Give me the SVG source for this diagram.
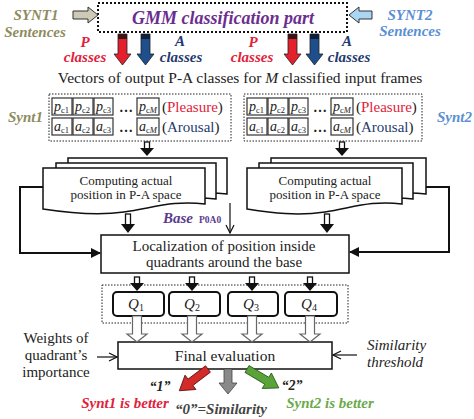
<svg xmlns="http://www.w3.org/2000/svg" width="474" height="419" viewBox="0 0 474 419" font-family="'Liberation Serif', 'Times New Roman', serif">
<style>
text{font-family:'Liberation Serif','Times New Roman',serif;fill:#222}
.bi{font-weight:bold;font-style:italic}
.it{font-style:italic}
.c{text-anchor:middle}
.dot{fill:none;stroke:#222;stroke-width:1;stroke-dasharray:1.5,1.5}
.cell{fill:#fff;stroke:#333;stroke-width:1.2}
.doc{fill:#fff;stroke:#111;stroke-width:1.5}
.box{fill:#fff;stroke:#111;stroke-width:1.5}
.qb{fill:#fff;stroke:#111;stroke-width:2}
.ln{fill:none;stroke:#111;stroke-width:2}
.thin{fill:none;stroke:#111;stroke-width:1.2}
.hs{fill:#fff;stroke:#111;stroke-width:1.3}
.hd{fill:#111;stroke:none}
.ho{fill:#fff;stroke:#666;stroke-width:1.2}
</style>
<defs>
<marker id="fa" markerWidth="10" markerHeight="10" refX="9" refY="5" orient="auto" markerUnits="userSpaceOnUse"><path d="M0,0 L10,5 L0,10 Z" fill="#111"/></marker>
<marker id="oa" markerWidth="10" markerHeight="10" refX="9" refY="5" orient="auto" markerUnits="userSpaceOnUse"><path d="M1,1 L9,5 L1,9" fill="none" stroke="#111" stroke-width="1.2"/></marker>
<g id="dn"><rect x="-2.5" y="0" width="5" height="11" class="hs"/><path d="M-7,10 L7,10 L0,19 Z" class="hd"/></g>
<g id="dnS"><rect x="-2.5" y="0" width="5" height="7" class="hs"/><path d="M-7,6 L7,6 L0,14 Z" class="hd"/></g>
<path id="hol" d="M-4.5,0 H4.5 V18 H10 L0,26 L-10,18 H-4.5 Z"/>
</defs>

<g id="gmm">
<rect x="98" y="3" width="249" height="29" fill="none" stroke="#111" stroke-width="2" stroke-dasharray="2,2"/>
<text x="223" y="24" class="bi c" font-size="18" style="fill:#6b2e8f">GMM classification part</text>
</g>

<g id="synt1">
<text x="36" y="20" class="bi c" font-size="15" style="fill:#8e8b5e">SYNT1</text>
<text x="35" y="37" class="bi c" font-size="15" style="fill:#8e8b5e">Sentences</text>
</g>
<g id="synt2">
<text x="410" y="20" class="bi c" font-size="15" style="fill:#5b8fd3">SYNT2</text>
<text x="410" y="36" class="bi c" font-size="15" style="fill:#5b8fd3">Sentences</text>
</g>

<g id="classLabels">
<text x="85" y="47" class="bi c" font-size="15" style="fill:#e0223a">P</text>
<text x="85" y="62" class="bi c" font-size="15" style="fill:#e0223a">classes</text>
<text x="180" y="46" class="bi c" font-size="15" style="fill:#1f3a6e">A</text>
<text x="181" y="62" class="bi c" font-size="15" style="fill:#1f3a6e">classes</text>
<text x="253" y="47" class="bi c" font-size="15" style="fill:#e0223a">P</text>
<text x="252" y="62" class="bi c" font-size="15" style="fill:#e0223a">classes</text>
<text x="347" y="46" class="bi c" font-size="15" style="fill:#1f3a6e">A</text>
<text x="349" y="62" class="bi c" font-size="15" style="fill:#1f3a6e">classes</text>
</g>

<g id="vectorsTitle">
<text x="240" y="83" class="c" font-size="15.5">Vectors of output P-A classes for <tspan font-style="italic">M</tspan> classified input frames</text>
</g>

<g id="vec1">
<rect x="49" y="94" width="182" height="47" class="dot"/>
<rect x="52" y="98" width="20" height="17" class="cell"/><rect x="73" y="98" width="20" height="17" class="cell"/><rect x="94" y="98" width="19" height="17" class="cell"/><rect x="137" y="98" width="22" height="17" class="cell"/>
<rect x="52" y="118" width="20" height="17" class="cell"/><rect x="73" y="118" width="20" height="17" class="cell"/><rect x="94" y="118" width="19" height="17" class="cell"/><rect x="137" y="118" width="22" height="17" class="cell"/>
<text font-size="14"><tspan x="54" y="111" font-style="italic">p</tspan><tspan font-size="8.5" dy="2">c1</tspan><tspan x="75" y="111" font-style="italic">p</tspan><tspan font-size="8.5" dy="2">c2</tspan><tspan x="96" y="111" font-style="italic">p</tspan><tspan font-size="8.5" dy="2">c3</tspan><tspan x="139" y="111" font-style="italic">p</tspan><tspan font-size="8.5" dy="2">c<tspan font-style="italic">M</tspan></tspan></text>
<text font-size="14"><tspan x="54" y="131" font-style="italic">a</tspan><tspan font-size="8.5" dy="2">c1</tspan><tspan x="75" y="131" font-style="italic">a</tspan><tspan font-size="8.5" dy="2">c2</tspan><tspan x="96" y="131" font-style="italic">a</tspan><tspan font-size="8.5" dy="2">c3</tspan><tspan x="139" y="131" font-style="italic">a</tspan><tspan font-size="8.5" dy="2">c<tspan font-style="italic">M</tspan></tspan></text>
<text x="126" y="112" class="c" font-size="14" font-weight="bold">…</text>
<text x="126" y="132" class="c" font-size="14" font-weight="bold">…</text>
<text x="162" y="112" font-size="15">(<tspan style="fill:#e0223a">Pleasure</tspan>)</text>
<text x="162" y="132" font-size="15">(<tspan style="fill:#1f3a6e">Arousal</tspan>)</text>
</g>

<g id="vec2">
<rect x="244" y="94" width="178" height="47" class="dot"/>
<rect x="247" y="98" width="20" height="17" class="cell"/><rect x="268" y="98" width="20" height="17" class="cell"/><rect x="289" y="98" width="19" height="17" class="cell"/><rect x="331" y="98" width="22" height="17" class="cell"/>
<rect x="247" y="118" width="20" height="17" class="cell"/><rect x="268" y="118" width="20" height="17" class="cell"/><rect x="289" y="118" width="19" height="17" class="cell"/><rect x="331" y="118" width="22" height="17" class="cell"/>
<text font-size="14"><tspan x="249" y="111" font-style="italic">p</tspan><tspan font-size="8.5" dy="2">c1</tspan><tspan x="270" y="111" font-style="italic">p</tspan><tspan font-size="8.5" dy="2">c2</tspan><tspan x="291" y="111" font-style="italic">p</tspan><tspan font-size="8.5" dy="2">c3</tspan><tspan x="333" y="111" font-style="italic">p</tspan><tspan font-size="8.5" dy="2">c<tspan font-style="italic">M</tspan></tspan></text>
<text font-size="14"><tspan x="249" y="131" font-style="italic">a</tspan><tspan font-size="8.5" dy="2">c1</tspan><tspan x="270" y="131" font-style="italic">a</tspan><tspan font-size="8.5" dy="2">c2</tspan><tspan x="291" y="131" font-style="italic">a</tspan><tspan font-size="8.5" dy="2">c3</tspan><tspan x="333" y="131" font-style="italic">a</tspan><tspan font-size="8.5" dy="2">c<tspan font-style="italic">M</tspan></tspan></text>
<text x="320" y="112" class="c" font-size="14" font-weight="bold">…</text>
<text x="320" y="132" class="c" font-size="14" font-weight="bold">…</text>
<text x="356" y="112" font-size="15">(<tspan style="fill:#e0223a">Pleasure</tspan>)</text>
<text x="356" y="132" font-size="15">(<tspan style="fill:#1f3a6e">Arousal</tspan>)</text>
</g>

<g id="syntLabels">
<text x="8" y="122" class="bi" font-size="15" style="fill:#8e8b5e">Synt1</text>
<text x="437" y="122" class="bi" font-size="15" style="fill:#5b8fd3">Synt2</text>
</g>

<g id="docs1">
<path class="doc" d="M68,158 h159 v36 c-32,-4 -52,4 -80,8 c-28,4 -54,1 -79,-3 z"/>
<path class="doc" d="M56,163 h160 v36 c-32,-4 -52,4 -80,8 c-28,4 -55,1 -80,-3 z"/>
<path class="doc" d="M43,168 h162 v36 c-32,-4 -52,4 -81,8 c-28,4 -55,1 -81,-3 z"/>
<text x="126" y="185" class="c" font-size="13">Computing actual</text>
<text x="126" y="199" class="c" font-size="13">position in P-A space</text>
</g>

<g id="docs2">
<path class="doc" d="M271,158 h155 v36 c-31,-4 -50,4 -77,8 c-28,4 -52,1 -78,-3 z"/>
<path class="doc" d="M259,163 h154 v36 c-31,-4 -50,4 -77,8 c-28,4 -52,1 -77,-3 z"/>
<path class="doc" d="M247,168 h155 v36 c-31,-4 -50,4 -77,8 c-28,4 -52,1 -78,-3 z"/>
<text x="325" y="185" class="c" font-size="13">Computing actual</text>
<text x="325" y="199" class="c" font-size="13">position in P-A space</text>
</g>

<g id="base">
<text x="163" y="223" class="bi" font-size="15" style="fill:#5b3a8e">Base</text>
<text x="199" y="223" font-size="9.5" font-weight="bold" style="fill:#5b3a8e">P0A0</text>
</g>

<g id="localization">
<rect x="101" y="235" width="248" height="38" class="box"/>
<text x="224" y="251" class="c" font-size="15">Localization of position inside</text>
<text x="224" y="267" class="c" font-size="15">quadrants around the base</text>
</g>

<g id="quadrants">
<rect x="102" y="285" width="246" height="38" class="dot"/>
<rect x="113" y="292" width="51" height="24" rx="4" class="qb"/>
<rect x="169" y="292" width="51" height="24" rx="4" class="qb"/>
<rect x="228" y="292" width="50" height="24" rx="4" class="qb"/>
<rect x="285" y="292" width="52" height="24" rx="4" class="qb"/>
<text x="136" y="309" class="c" font-size="15"><tspan font-style="italic">Q</tspan><tspan font-size="10" dy="2">1</tspan></text>
<text x="192" y="309" class="c" font-size="15"><tspan font-style="italic">Q</tspan><tspan font-size="10" dy="2">2</tspan></text>
<text x="251" y="309" class="c" font-size="15"><tspan font-style="italic">Q</tspan><tspan font-size="10" dy="2">3</tspan></text>
<text x="309" y="309" class="c" font-size="15"><tspan font-style="italic">Q</tspan><tspan font-size="10" dy="2">4</tspan></text>
</g>

<g id="final">
<rect x="118" y="342" width="214" height="27" class="box"/>
<text x="225" y="361" class="c" font-size="15.5">Final evaluation</text>
</g>

<g id="weights">
<text x="56" y="343" class="c" font-size="15">Weights of</text>
<text x="56" y="360" class="c" font-size="15">quadrant’s</text>
<text x="56" y="377" class="c" font-size="15">importance</text>
</g>

<g id="threshold">
<text x="367" y="350" class="it" font-size="15">Similarity</text>
<text x="367" y="367" class="it" font-size="15">threshold</text>
</g>

<g id="outputs">
<text x="160" y="391" class="bi c" font-size="14">“1”</text>
<text x="125" y="408" class="bi c" font-size="15" style="fill:#e0223a">Synt1 is better</text>
<text x="175" y="414" class="bi" font-size="15" style="fill:#444">“0”=Similarity</text>
<text x="292" y="390" class="bi c" font-size="14">“2”</text>
<text x="330" y="408" class="bi c" font-size="15" style="fill:#6aaa4a">Synt2 is better</text>
</g>

<g id="connectors">
<path d="M73,11 H88 V7 L98,15 L88,23 V19 H73 Z" fill="#cdcbb5" stroke="#333" stroke-width="1"/>
<path d="M372,11 H359 V7 L349,15 L359,23 V19 H372 Z" fill="#a9d6f2" stroke="#333" stroke-width="1"/>
<g stroke="#222" stroke-width="0.8">
<path d="M118,34 H127 V54 H131 L122.5,65 L114,54 H118 Z" fill="#e3202c"/>
<path d="M141,34 H150 V54 H154 L145.5,65 L137,54 H141 Z" fill="#1f4e8c"/>
<path d="M288,34 H297 V54 H301 L292.5,65 L284,54 H288 Z" fill="#e3202c"/>
<path d="M310,34 H319 V54 H323 L314.5,65 L306,54 H310 Z" fill="#1f4e8c"/>
</g>
<rect x="118" y="34" width="9" height="5" fill="#3a1515"/><rect x="141" y="34" width="9" height="5" fill="#0e1f38"/>
<rect x="288" y="34" width="9" height="5" fill="#3a1515"/><rect x="310" y="34" width="9" height="5" fill="#0e1f38"/>
<use href="#dnS" x="147" y="142"/>
<use href="#dnS" x="342" y="142"/>
<use href="#dn" x="128" y="214"/>
<use href="#dn" x="327" y="214"/>
<use href="#dnS" x="137" y="277"/>
<use href="#dnS" x="192" y="277"/>
<use href="#dnS" x="252" y="277"/>
<use href="#dnS" x="310" y="277"/>
<polyline class="ln" points="43,187 20,187 20,253 100,253" marker-end="url(#fa)"/>
<polyline class="ln" points="426,187 449,187 449,252 350,252" marker-end="url(#fa)"/>
<line class="thin" x1="230" y1="203" x2="230" y2="233" marker-end="url(#oa)"/>
<use href="#hol" x="137" y="316" class="ho"/>
<use href="#hol" x="192" y="316" class="ho"/>
<use href="#hol" x="252" y="316" class="ho"/>
<use href="#hol" x="310" y="316" class="ho"/>
<line class="thin" x1="97" y1="357" x2="117" y2="357" marker-end="url(#oa)"/>
<line class="thin" x1="357" y1="355" x2="333" y2="355" marker-end="url(#oa)"/>
<path transform="translate(208,369) rotate(142.8)" d="M0,-4 H22 V-9 L36,0 L22,9 V4 H0 Z" fill="#d32a2a" stroke="#5a1010" stroke-width="0.8"/>
<path transform="translate(228,369) rotate(90)" d="M0,-4 H14 V-9 L25,0 L14,9 V4 H0 Z" fill="#8a8a8a" stroke="#444" stroke-width="0.8"/>
<path transform="translate(247,369) rotate(30.7)" d="M0,-4 H23 V-9 L37,0 L23,9 V4 H0 Z" fill="#5aa33a" stroke="#2a5a1a" stroke-width="0.8"/>
</g>
</svg>
